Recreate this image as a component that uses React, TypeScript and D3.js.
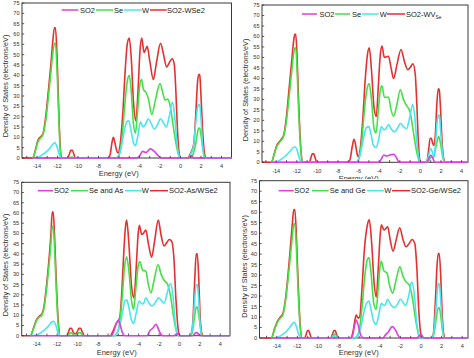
import React from "react";
import * as d3 from "d3";

type Pt = [number, number];

const xTickLabels = [-14, -12, -10, -8, -6, -4, -2, 0, 2, 4];
const yTickLabels = [0, 5, 10, 15, 20, 25, 30, 35, 40, 45, 50, 55, 60, 65, 70, 75];

const p1Legend = ["SO2", "Se", "W", "SO2-WSe2"];
const p2Legend = ["SO2", "Se", "W", "SO2-WV"];
const p3Legend = ["SO2", "Se and As", "W", "SO2-As/WSe2"];
const p4Legend = ["SO2", "Se and Ge", "W", "SO2-Ge/WSe2"];

// ---------- Panel 1: SO2-WSe2 ----------
const p1Total: Pt[] = [
  [-15.5, 0], [-14.4, 0], [-14.15, 4], [-13.9, 8.7], [-13.6, 10.5], [-13.4, 12], [-13.15, 20], [-12.9, 32], [-12.65, 45], [-12.45, 57], [-12.3, 63], [-12.2, 63], [-12.05, 50], [-11.9, 27], [-11.75, 7], [-11.6, 0],
  [-11.0, 0], [-10.85, 1.8], [-10.7, 3.7], [-10.55, 3.7], [-10.4, 1.8], [-10.25, 0],
  [-7.0, 0], [-6.85, 2], [-6.7, 7], [-6.55, 10], [-6.4, 7.5], [-6.25, 4], [-6.1, 2.5], [-5.9, 6], [-5.65, 20], [-5.4, 42], [-5.2, 55], [-5.0, 58], [-4.8, 48], [-4.6, 28], [-4.35, 18], [-4.15, 32], [-3.95, 52], [-3.78, 58], [-3.55, 51], [-3.25, 54], [-3.0, 47], [-2.65, 38], [-2.35, 46], [-1.95, 55.5], [-1.65, 50], [-1.35, 44], [-1.05, 46.5], [-0.8, 48], [-0.6, 45], [-0.45, 32], [-0.3, 14], [-0.15, 3], [0, 0],
  [0.7, 0], [0.95, 2], [1.1, 3.5], [1.3, 7], [1.5, 22], [1.65, 36], [1.78, 40.5], [1.88, 40], [2.0, 30], [2.15, 14], [2.35, 2], [2.5, 0], [5, 0],
];
const p1Se: Pt[] = [
  [-14.4, 0], [-14.15, 3.5], [-13.9, 8], [-13.6, 10], [-13.4, 11.5], [-13.15, 18], [-12.9, 29], [-12.65, 41], [-12.45, 51], [-12.3, 55.5], [-12.2, 55.5], [-12.05, 43], [-11.9, 23], [-11.75, 5], [-11.6, 0],
  [-10.9, 0], [-10.6, 0.5], [-10.3, 0],
  [-6.2, 0], [-5.95, 2], [-5.7, 10], [-5.45, 25], [-5.2, 37], [-5.0, 40], [-4.8, 32], [-4.6, 17], [-4.4, 12], [-4.2, 22], [-3.95, 36], [-3.8, 38], [-3.6, 33], [-3.4, 32], [-3.15, 29], [-2.8, 21], [-2.45, 28], [-2.0, 36], [-1.7, 31], [-1.5, 28], [-1.25, 28.5], [-1.0, 25], [-0.7, 15], [-0.4, 6], [-0.15, 1], [0.05, 0],
  [1.0, 0], [1.2, 1.5], [1.45, 6], [1.65, 12], [1.78, 14.5], [1.88, 14.3], [2.0, 11], [2.2, 4], [2.4, 0], [5, 0],
];
const p1W: Pt[] = [
  [-14.4, 0], [-13.9, 0.3], [-13.5, 1.5], [-13.1, 3], [-12.7, 5], [-12.4, 7], [-12.25, 7.3], [-12.05, 5.5], [-11.85, 2], [-11.6, 0],
  [-6.3, 0], [-6.0, 1.5], [-5.75, 6], [-5.5, 13], [-5.25, 17.5], [-5.05, 18], [-4.85, 14], [-4.6, 7.5], [-4.4, 6], [-4.15, 11], [-3.9, 17.5], [-3.65, 15], [-3.45, 16], [-3.15, 19], [-2.85, 16.5], [-2.55, 14], [-2.25, 16], [-1.95, 19], [-1.65, 17], [-1.4, 15], [-1.1, 20], [-0.8, 27], [-0.6, 22], [-0.4, 10], [-0.2, 2], [0, 0],
  [0.8, 0], [1.0, 2], [1.1, 3], [1.25, 5], [1.45, 15], [1.65, 24], [1.78, 26], [1.88, 25.5], [2.0, 19], [2.15, 6], [2.35, 0], [5, 0],
];
const p1SO2: Pt[] = [
  [-14.4, 0], [-4.3, 0], [-4.0, 1], [-3.7, 3.2], [-3.35, 2.7], [-2.95, 4.4], [-2.55, 3.2], [-2.25, 1.5], [-2.0, 0.3], [-1.8, 0], [0.8, 0], [1.05, 1.2], [1.3, 0], [5, 0],
];

// ---------- Panel 2: SO2-WV_Se ----------
const p2Total: Pt[] = [
  [-15.5, 0], [-14.45, 0], [-14.2, 4], [-13.95, 8], [-13.75, 9.5], [-13.5, 11], [-13.27, 13], [-13.0, 22], [-12.75, 35], [-12.5, 48], [-12.3, 58], [-12.2, 61], [-12.1, 61], [-11.95, 47], [-11.8, 26], [-11.6, 6], [-11.45, 0],
  [-10.8, 0], [-10.65, 1.8], [-10.5, 4], [-10.35, 4], [-10.2, 1.8], [-10.05, 0],
  [-6.95, 0], [-6.8, 2], [-6.6, 8], [-6.45, 11], [-6.3, 8.5], [-6.15, 4], [-6.0, 2.5], [-5.85, 6], [-5.6, 20], [-5.35, 40], [-5.15, 51], [-4.96, 54.6], [-4.75, 44], [-4.5, 26], [-4.28, 21.8], [-4.1, 35], [-3.9, 51], [-3.73, 55.4], [-3.5, 50], [-3.1, 50.6], [-2.85, 45], [-2.6, 40], [-2.3, 46], [-1.88, 53.8], [-1.55, 48], [-1.23, 44.2], [-0.95, 45.5], [-0.72, 47], [-0.5, 42], [-0.35, 28], [-0.2, 10], [-0.05, 1], [0.1, 0],
  [0.6, 0], [0.8, 6], [0.95, 11.5], [1.05, 11.5], [1.2, 9], [1.32, 8], [1.45, 13], [1.6, 28], [1.73, 35], [1.83, 34.5], [1.95, 26], [2.1, 10], [2.3, 1], [2.45, 0], [5, 0],
];
const p2Se: Pt[] = [
  [-14.45, 0], [-14.2, 3.5], [-13.95, 7.5], [-13.75, 9], [-13.5, 10.5], [-13.27, 12.5], [-13.0, 20], [-12.75, 31], [-12.5, 43], [-12.3, 52], [-12.2, 54.5], [-12.1, 54.5], [-11.95, 41], [-11.8, 22], [-11.6, 5], [-11.45, 0],
  [-6.2, 0], [-5.95, 2], [-5.7, 10], [-5.45, 24], [-5.2, 34.5], [-4.98, 37.5], [-4.75, 30], [-4.5, 16], [-4.3, 14], [-4.1, 24], [-3.9, 34], [-3.73, 36.5], [-3.5, 31], [-3.1, 31], [-2.85, 25], [-2.6, 22], [-2.3, 27], [-1.95, 34.6], [-1.65, 30], [-1.4, 27.5], [-1.0, 24], [-0.7, 15], [-0.4, 6], [-0.15, 1], [0.05, 0],
  [0.7, 0], [0.9, 1.5], [1.05, 2.5], [1.25, 2], [1.45, 6], [1.62, 10], [1.78, 12.3], [1.95, 9], [2.15, 3], [2.35, 0], [5, 0],
];
const p2W: Pt[] = [
  [-14.45, 0], [-13.9, 0.3], [-13.5, 1.5], [-13.1, 3], [-12.7, 5], [-12.35, 7], [-12.15, 7.3], [-11.95, 5.5], [-11.75, 2], [-11.5, 0],
  [-6.3, 0], [-6.0, 1.5], [-5.75, 6], [-5.5, 12], [-5.25, 16.5], [-5.0, 17], [-4.8, 13.5], [-4.55, 8], [-4.3, 7], [-4.05, 11], [-3.8, 17], [-3.55, 15.5], [-3.35, 16], [-3.1, 18], [-2.85, 16], [-2.55, 14.5], [-2.25, 16], [-1.95, 18.5], [-1.65, 17], [-1.35, 16], [-1.05, 21], [-0.75, 27.5], [-0.55, 22], [-0.35, 10], [-0.15, 2], [0.05, 0],
  [0.6, 0], [0.8, 3.5], [1.0, 6.5], [1.15, 5], [1.3, 2.5], [1.45, 8], [1.62, 19], [1.75, 22.6], [1.85, 22], [1.95, 16], [2.15, 4], [2.35, 0], [5, 0],
];
const p2SO2: Pt[] = [
  [-14.45, 0], [-4.0, 0], [-3.8, 1.5], [-3.55, 3.5], [-3.3, 3], [-2.95, 3.5], [-2.6, 3.8], [-2.35, 2.5], [-2.15, 0.5], [-2.0, 0], [0.6, 0], [0.8, 1.5], [1.0, 3.5], [1.2, 2], [1.4, 0], [5, 0],
];

// ---------- Panel 3: SO2-As/WSe2 ----------
const p3Total: Pt[] = [
  [-15.5, 0], [-14.6, 0], [-14.3, 4], [-14.0, 8], [-13.75, 9.5], [-13.5, 10.5], [-13.3, 14], [-13.05, 24], [-12.8, 37], [-12.6, 50], [-12.48, 60.5], [-12.38, 60.5], [-12.25, 49], [-12.1, 29], [-11.9, 8], [-11.7, 0],
  [-11.05, 0], [-10.9, 1.5], [-10.75, 3.6], [-10.6, 3.6], [-10.4, 1.5], [-10.2, 0.8], [-10.0, 2.2], [-9.85, 3.6], [-9.7, 3.6], [-9.5, 1.5], [-9.3, 0],
  [-6.8, 0], [-6.5, 2.5], [-6.2, 6], [-6.0, 7.3], [-5.85, 9], [-5.65, 22], [-5.45, 42], [-5.3, 53], [-5.18, 56.5], [-4.95, 44], [-4.7, 24], [-4.46, 18.5], [-4.25, 33], [-4.05, 50], [-3.94, 54], [-3.7, 49.5], [-3.55, 50], [-3.3, 51.6], [-3.05, 45], [-2.73, 38.4], [-2.45, 46], [-2.08, 56.5], [-1.8, 49], [-1.52, 43.9], [-1.25, 45.5], [-1.0, 47], [-0.75, 46], [-0.55, 38], [-0.35, 18], [-0.15, 4], [0, 0],
  [1.0, 0], [1.15, 1], [1.3, 6], [1.5, 28], [1.64, 40], [1.74, 40], [1.88, 29], [2.0, 12], [2.2, 1], [2.35, 0], [5, 0],
];
const p3Se: Pt[] = [
  [-14.6, 0], [-14.3, 3.5], [-14.0, 7.5], [-13.75, 9], [-13.5, 10], [-13.3, 13], [-13.05, 22], [-12.8, 34], [-12.6, 45], [-12.48, 53.5], [-12.38, 53.5], [-12.25, 43], [-12.1, 25], [-11.9, 6], [-11.7, 0],
  [-11.0, 0], [-10.67, 1.5], [-10.3, 0.2], [-9.75, 1.5], [-9.4, 0],
  [-6.4, 0], [-6.1, 1.5], [-5.85, 7], [-5.6, 20], [-5.4, 33], [-5.18, 38.4], [-4.95, 31], [-4.7, 17], [-4.5, 12.9], [-4.3, 22], [-4.05, 34], [-3.9, 36.3], [-3.6, 32], [-3.3, 31.5], [-3.05, 25], [-2.8, 21], [-2.5, 27], [-2.1, 34.7], [-1.8, 30], [-1.5, 27], [-1.2, 25.5], [-0.9, 20], [-0.6, 10], [-0.35, 3], [-0.1, 0],
  [1.1, 0], [1.3, 3], [1.5, 10], [1.64, 14], [1.74, 14], [1.88, 10.5], [2.05, 4], [2.25, 0], [5, 0],
];
const p3W: Pt[] = [
  [-14.6, 0], [-14.0, 0.3], [-13.6, 1.5], [-13.2, 3], [-12.8, 5], [-12.5, 6.8], [-12.35, 7], [-12.15, 5.5], [-11.95, 2], [-11.7, 0],
  [-6.4, 0], [-6.1, 1.5], [-5.85, 5], [-5.6, 11], [-5.35, 17], [-5.15, 17.4], [-4.95, 13.5], [-4.7, 7.5], [-4.5, 6], [-4.25, 11], [-3.95, 17], [-3.65, 15.5], [-3.5, 16], [-3.3, 18.5], [-3.0, 16], [-2.7, 14.5], [-2.4, 16], [-2.05, 18.5], [-1.75, 17], [-1.5, 16], [-1.2, 21], [-0.9, 25.5], [-0.65, 20], [-0.45, 8], [-0.25, 1.5], [-0.05, 0],
  [1.0, 0], [1.25, 3], [1.45, 15], [1.64, 25], [1.74, 25], [1.88, 18], [2.0, 7], [2.2, 0], [5, 0],
];
const p3SO2: Pt[] = [
  [-14.6, 0], [-6.7, 0], [-6.45, 2], [-6.2, 6], [-6.0, 7.5], [-5.8, 5], [-5.6, 1.5], [-5.35, 0], [-3.2, 0], [-2.9, 2.5], [-2.65, 3.5], [-2.3, 5.6], [-2.05, 3], [-1.8, 0.5], [-1.6, 0], [-0.55, 0], [-0.3, 0.8], [-0.1, 1], [0.1, 0], [1.3, 0], [1.55, 1.3], [1.7, 1.5], [1.9, 0.5], [2.1, 0], [5, 0],
];

// ---------- Panel 4: SO2-Ge/WSe2 ----------
const p4Total: Pt[] = [
  [-15.5, 0], [-14.5, 0], [-14.25, 4], [-13.9, 8.3], [-13.65, 10], [-13.42, 11.5], [-13.2, 17], [-12.95, 28], [-12.7, 42], [-12.5, 54], [-12.35, 61.3], [-12.25, 61.3], [-12.1, 49], [-11.95, 29], [-11.75, 8], [-11.55, 0],
  [-11.3, 0], [-11.15, 1.7], [-11.02, 3.5], [-10.9, 3.5], [-10.77, 1.7], [-10.62, 0],
  [-8.75, 0], [-8.6, 1.7], [-8.45, 3.5], [-8.33, 3.5], [-8.2, 1.7], [-8.05, 0],
  [-6.85, 0], [-6.6, 3], [-6.4, 9], [-6.28, 11], [-6.1, 9.5], [-5.95, 10], [-5.75, 22], [-5.5, 42], [-5.2, 54], [-5.02, 56.3], [-4.8, 46], [-4.55, 26], [-4.34, 19.5], [-4.15, 33], [-3.95, 50], [-3.85, 54], [-3.6, 51.5], [-3.23, 53], [-3.0, 47], [-2.72, 41.4], [-2.4, 47], [-2.07, 52.6], [-1.75, 47], [-1.46, 43.5], [-1.15, 45], [-0.87, 47], [-0.6, 45], [-0.4, 33], [-0.2, 12], [0, 1.5], [0.15, 0],
  [1.05, 0], [1.2, 2], [1.4, 18], [1.55, 34], [1.67, 40.3], [1.77, 40.3], [1.92, 29], [2.05, 12], [2.2, 2], [2.35, 0], [5, 0],
];
const p4Se: Pt[] = [
  [-14.5, 0], [-14.25, 3.5], [-13.9, 7.8], [-13.65, 9.5], [-13.42, 11], [-13.2, 16], [-12.95, 26], [-12.7, 38], [-12.5, 48], [-12.35, 54.5], [-12.25, 54.5], [-12.1, 43], [-11.95, 25], [-11.75, 6], [-11.55, 0],
  [-8.75, 0], [-8.4, 2], [-8.05, 0],
  [-6.5, 0], [-6.2, 1], [-5.95, 5], [-5.7, 16], [-5.45, 30], [-5.2, 37.5], [-5.05, 38.4], [-4.85, 31], [-4.6, 17], [-4.35, 13.6], [-4.15, 24], [-3.95, 35], [-3.85, 36.6], [-3.6, 32], [-3.3, 31], [-3.05, 25], [-2.75, 21.4], [-2.45, 27], [-2.05, 33.9], [-1.75, 29.5], [-1.5, 27], [-1.1, 25], [-0.8, 18], [-0.5, 8], [-0.25, 2], [0, 0],
  [1.1, 0], [1.3, 3], [1.5, 10], [1.67, 14.4], [1.77, 14.4], [1.92, 10.5], [2.1, 3], [2.3, 0], [5, 0],
];
const p4W: Pt[] = [
  [-14.5, 0], [-13.9, 0.3], [-13.5, 1.5], [-13.1, 3], [-12.75, 5], [-12.45, 7], [-12.3, 7.5], [-12.1, 5.5], [-11.9, 2], [-11.6, 0],
  [-8.7, 0], [-8.4, 1], [-8.1, 0],
  [-6.4, 0], [-6.1, 1.5], [-5.85, 5], [-5.6, 11], [-5.3, 16.5], [-5.05, 17.6], [-4.85, 13.5], [-4.6, 8], [-4.35, 6.5], [-4.1, 11], [-3.85, 16.5], [-3.6, 15.5], [-3.45, 16], [-3.25, 18.5], [-2.95, 16], [-2.6, 14.5], [-2.3, 16], [-2.0, 18.5], [-1.75, 17], [-1.5, 15.5], [-1.2, 20], [-0.9, 26.7], [-0.65, 21], [-0.45, 9], [-0.25, 2], [-0.05, 0],
  [1.05, 0], [1.25, 3], [1.45, 14], [1.6, 23], [1.67, 26], [1.77, 26], [1.9, 19], [2.05, 7], [2.25, 0], [5, 0],
];
const p4SO2: Pt[] = [
  [-14.5, 0], [-6.8, 0], [-6.6, 2], [-6.45, 6], [-6.3, 8.5], [-6.15, 7], [-5.95, 3], [-5.75, 0.5], [-5.5, 0], [-3.7, 0], [-3.45, 1.5], [-3.15, 3], [-2.8, 5.4], [-2.5, 4], [-2.25, 1.5], [-2.0, 0], [-0.4, 0], [-0.15, 1.2], [0.05, 1.5], [0.25, 0], [5, 0],
];

const COLORS = { so2: "#e03ee0", se: "#45e045", w: "#48e6ef", total: "#e5302e" };
const FONT = "'Liberation Sans', Arial, sans-serif";

interface PanelCfg {
  id: number;
  left: number; right: number; top: number; bottom: number; x0: number; ppu: number;
  total: Pt[]; se: Pt[]; w: Pt[]; so2: Pt[];
  legend: string[];
  legendY: number;
  legendPos: [number, number, number][];
  subscript?: string;
  yLabelX: number; yLabelY: number;
  eLabelX: number; eLabelY: number;
}

const panels: PanelCfg[] = [
  { id: 1, left: 22, right: 231.5, top: 3, bottom: 158, x0: 180.5, ppu: 10.25,
    total: p1Total, se: p1Se, w: p1W, so2: p1SO2, legend: p1Legend, legendY: 10,
    legendPos: [[61.7, 78.3, 80], [96, 113, 114], [124, 141.7, 142], [150, 166.7, 167]],
    yLabelX: 8, yLabelY: 86, eLabelX: 118.7, eLabelY: 175.5 },
  { id: 2, left: 262, right: 468, top: 5, bottom: 162.3, x0: 420.4, ppu: 10.3,
    total: p2Total, se: p2Se, w: p2W, so2: p2SO2, legend: p2Legend, legendY: 14, subscript: "Se",
    legendPos: [[302, 317, 319.5], [335, 350, 352], [362, 378.7, 379.7], [387, 405, 406]],
    yLabelX: 248, yLabelY: 90, eLabelX: 358.7, eLabelY: 180.5 },
  { id: 3, left: 21.7, right: 230, top: 182.3, bottom: 335.7, x0: 179.5, ppu: 10.2,
    total: p3Total, se: p3Se, w: p3W, so2: p3SO2, legend: p3Legend, legendY: 190.7,
    legendPos: [[38, 53, 54], [70.7, 88.3, 89], [125, 141.7, 141.7], [150, 168, 169]],
    yLabelX: 7.5, yLabelY: 265, eLabelX: 116.7, eLabelY: 354.5 },
  { id: 4, left: 259.5, right: 468, top: 180.7, bottom: 338, x0: 421, ppu: 10.3,
    total: p4Total, se: p4Se, w: p4W, so2: p4SO2, legend: p4Legend, legendY: 190.7,
    legendPos: [[278.7, 293.7, 294.3], [312, 328.7, 329.7], [367, 383.7, 384.3], [392, 410.3, 411]],
    yLabelX: 247, yLabelY: 266.5, eLabelX: 358.7, eLabelY: 355 },
];

function Panel({ cfg }: { cfg: PanelCfg }) {
  const { left, right, top, bottom, x0, ppu } = cfg;
  const xMin = (left - x0) / ppu;
  const xMax = (right - x0) / ppu;
  const x = d3.scaleLinear().domain([xMin, xMax]).range([left, right]);
  const y = d3.scaleLinear().domain([0, 75]).range([bottom, top]);
  const line = d3.line<Pt>().x((d) => x(d[0])).y((d) => y(d[1])).curve(d3.curveMonotoneX);
  const minorTicks = d3.range(Math.ceil(xMin), Math.floor(xMax) + 1);
  const clipId = `clip${cfg.id}`;
  const legendColors = [COLORS.so2, COLORS.se, COLORS.w, COLORS.total];
  const series: [Pt[], string][] = [
    [cfg.total, COLORS.total],
    [cfg.se, COLORS.se],
    [cfg.w, COLORS.w],
    [cfg.so2, COLORS.so2],
  ];
  return (
    <g>
      <defs>
        <clipPath id={clipId}>
          <rect x={left} y={top} width={right - left} height={bottom - top + 1} />
        </clipPath>
      </defs>
      <rect x={left} y={top} width={right - left} height={bottom - top} fill="none" stroke="#3a3a3a" strokeWidth={1} />
      <g clipPath={`url(#${clipId})`}>
        {series.map(([data, color], i) => (
          <path key={i} d={line(data) || ""} fill="none" stroke={color} strokeWidth={1.6} strokeLinejoin="round" />
        ))}
      </g>
      {yTickLabels.map((v) => (
        <g key={"y" + v}>
          <line x1={left} x2={left + 2.2} y1={y(v)} y2={y(v)} stroke="#333" strokeWidth={0.8} />
          <text x={left - 2.5} y={y(v)} dy="0.35em" textAnchor="end" fontSize={5.6} fill="#333" fontFamily={FONT}>{v}</text>
        </g>
      ))}
      {minorTicks.map((t) => (
        <line key={"xt" + t} x1={x(t)} x2={x(t)} y1={bottom} y2={bottom - 2.2} stroke="#4a2a5a" strokeWidth={0.8} />
      ))}
      {xTickLabels.map((t) => (
        <text key={"xl" + t} x={x(t)} y={bottom + 10.3} textAnchor="middle" fontSize={5.6} fill="#333" fontFamily={FONT}>{t}</text>
      ))}
      <text transform={`translate(${cfg.yLabelX},${cfg.yLabelY}) rotate(-90)`} textAnchor="middle" fontSize={7.3} fill="#333" fontFamily={FONT}>
        Density of States (electrons/eV)
      </text>
      <text x={cfg.eLabelX} y={cfg.eLabelY} textAnchor="middle" fontSize={7.5} fill="#333" fontFamily={FONT}>Energy (eV)</text>
      {cfg.legend.map((lab, i) => {
        const [x1, x2, tx] = cfg.legendPos[i];
        return (
          <g key={"lg" + i}>
            <line x1={x1} x2={x2} y1={cfg.legendY} y2={cfg.legendY} stroke={legendColors[i]} strokeWidth={1.5} />
            <text x={tx} y={cfg.legendY + 2.6} fontSize={7.5} fill="#222" fontFamily={FONT}>
              {lab}
              {i === 3 && cfg.subscript ? (
                <tspan fontSize={4.8} dy={2}>{cfg.subscript}</tspan>
              ) : null}
            </text>
          </g>
        );
      })}
    </g>
  );
}

export default function App() {
  return (
    <svg width={474} height={358} viewBox="0 0 474 358" style={{ position: "absolute", left: 0, top: 0, background: "#fff" }}>
      <rect x={0} y={0} width={474} height={358} fill="#fff" />
      <Panel cfg={panels[0]} />
      <Panel cfg={panels[1]} />
      <rect x={0} y={179} width={474} height={179} fill="#fff" />
      <Panel cfg={panels[2]} />
      <Panel cfg={panels[3]} />
    </svg>
  );
}
